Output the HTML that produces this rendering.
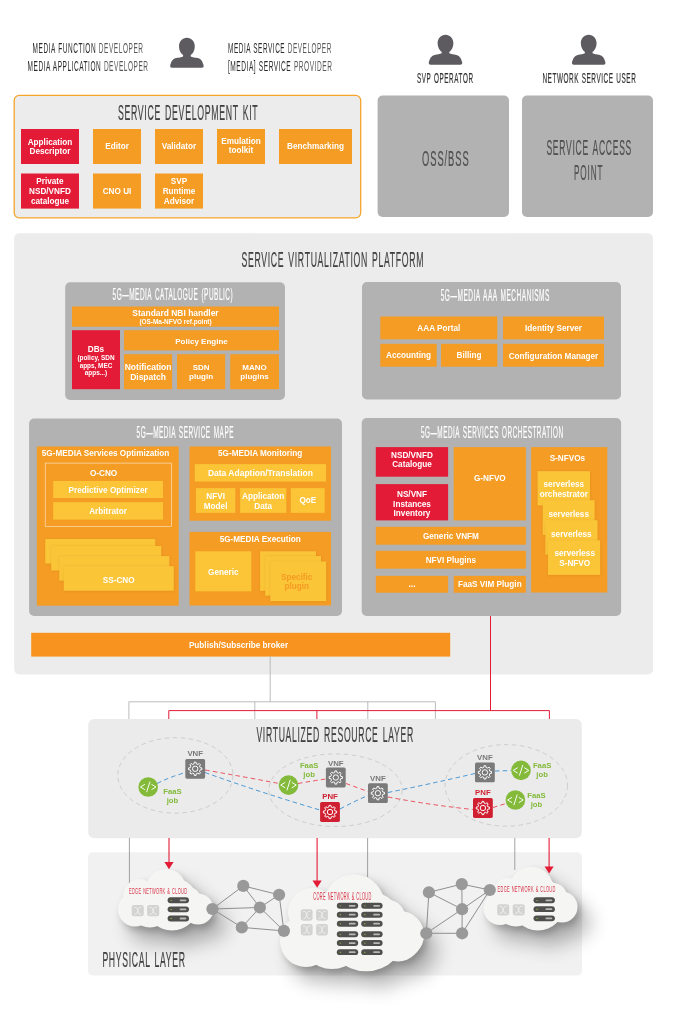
<!DOCTYPE html>
<html><head><meta charset="utf-8"><title>5G-MEDIA architecture</title>
<style>html,body{margin:0;padding:0;background:#fff}svg{display:block;will-change:transform}text{font-family:"Liberation Sans",sans-serif}</style>
</head><body>
<svg width="675" height="1024" viewBox="0 0 675 1024">
<defs>
<filter id="sh" x="-10%" y="-20%" width="125%" height="150%"><feDropShadow dx="0.2" dy="0.4" stdDeviation="0.8" flood-color="#b86a00" flood-opacity="0.3"/></filter>
<filter id="csh" x="-40%" y="-40%" width="210%" height="240%" color-interpolation-filters="sRGB">
<feGaussianBlur in="SourceAlpha" stdDeviation="3.5" result="b1"/><feOffset in="b1" dx="3" dy="4" result="o1"/>
<feComponentTransfer in="o1" result="s1"><feFuncA type="linear" slope="0.2"/></feComponentTransfer>
<feGaussianBlur in="SourceAlpha" stdDeviation="10" result="b2"/><feOffset in="b2" dx="12" dy="15" result="o2"/>
<feComponentTransfer in="o2" result="s2"><feFuncA type="linear" slope="0.3"/></feComponentTransfer>
<feMerge><feMergeNode in="s2"/><feMergeNode in="s1"/><feMergeNode in="SourceGraphic"/></feMerge></filter>
<clipPath id="pc"><rect x="88" y="852.2" width="494" height="123.4" rx="5"/></clipPath>
</defs>
<rect width="675" height="1024" fill="#fff"/>
<text transform="translate(32.6,53.2) scale(0.4472,1)" font-size="14.53" word-spacing="0.6" textLength="246.9" lengthAdjust="spacing"><tspan fill="#2b2b2b">MEDIA FUNCTION</tspan><tspan fill="#5a5a5a"> DEVELOPER</tspan></text><text transform="translate(27.6,71.2) scale(0.4482,1)" font-size="14.53" word-spacing="0.6" textLength="268.6" lengthAdjust="spacing"><tspan fill="#2b2b2b">MEDIA APPLICATION</tspan><tspan fill="#5a5a5a"> DEVELOPER</tspan></text><text transform="translate(228.0,53.2) scale(0.4419,1)" font-size="14.53" word-spacing="0.6" textLength="233.8" lengthAdjust="spacing"><tspan fill="#2b2b2b">MEDIA SERVICE</tspan><tspan fill="#5a5a5a"> DEVELOPER</tspan></text><text transform="translate(228.0,71.2) scale(0.4539,1)" font-size="14.53" word-spacing="0.6" textLength="229.1" lengthAdjust="spacing"><tspan fill="#2b2b2b">[MEDIA] SERVICE</tspan><tspan fill="#5a5a5a"> PROVIDER</tspan></text><g transform="translate(186.9,37.8) scale(1.000)" fill="#5e5b60"><path d="M0,0 C4.6,0 7.9,3.6 7.9,8.6 C7.9,12.6 6,15.6 3.8,17.2 L3.8,18.6 C5.5,19.4 8,19.6 11,20.2 C14.5,21 16,24.5 16.7,27.8 C16.9,29.2 16.2,30 15,30 L-15,30 C-16.2,30 -16.9,29.2 -16.7,27.8 C-16,24.5 -14.5,21 -11,20.2 C-8,19.6 -5.5,19.4 -3.8,18.6 L-3.8,17.2 C-6,15.6 -7.9,12.6 -7.9,8.6 C-7.9,3.6 -4.6,0 0,0 Z"/></g><g transform="translate(445.5,34.7) scale(1.000)" fill="#5e5b60"><path d="M0,0 C4.6,0 7.9,3.6 7.9,8.6 C7.9,12.6 6,15.6 3.8,17.2 L3.8,18.6 C5.5,19.4 8,19.6 11,20.2 C14.5,21 16,24.5 16.7,27.8 C16.9,29.2 16.2,30 15,30 L-15,30 C-16.2,30 -16.9,29.2 -16.7,27.8 C-16,24.5 -14.5,21 -11,20.2 C-8,19.6 -5.5,19.4 -3.8,18.6 L-3.8,17.2 C-6,15.6 -7.9,12.6 -7.9,8.6 C-7.9,3.6 -4.6,0 0,0 Z"/></g><g transform="translate(588.7,34.7) scale(1.000)" fill="#5e5b60"><path d="M0,0 C4.6,0 7.9,3.6 7.9,8.6 C7.9,12.6 6,15.6 3.8,17.2 L3.8,18.6 C5.5,19.4 8,19.6 11,20.2 C14.5,21 16,24.5 16.7,27.8 C16.9,29.2 16.2,30 15,30 L-15,30 C-16.2,30 -16.9,29.2 -16.7,27.8 C-16,24.5 -14.5,21 -11,20.2 C-8,19.6 -5.5,19.4 -3.8,18.6 L-3.8,17.2 C-6,15.6 -7.9,12.6 -7.9,8.6 C-7.9,3.6 -4.6,0 0,0 Z"/></g><text transform="translate(417.0,82.5) scale(0.4231,1)" font-size="14.97" fill="#333" stroke="#333" stroke-width="0.22" font-weight="normal" word-spacing="0.7" textLength="132.4" lengthAdjust="spacing">SVP OPERATOR</text><text transform="translate(542.4,82.5) scale(0.4283,1)" font-size="14.97" fill="#333" stroke="#333" stroke-width="0.22" font-weight="normal" word-spacing="0.7" textLength="218.0" lengthAdjust="spacing">NETWORK SERVICE USER</text><rect x="14.2" y="95.4" width="346.5" height="122.4" fill="#ececec" rx="5" stroke="#f5a52a" stroke-width="1.3"/><text transform="translate(118.0,119.8) scale(0.3914,1)" font-size="22.38" fill="#414141" stroke="#414141" stroke-width="0.22" font-weight="normal" word-spacing="2.7" textLength="356.7" lengthAdjust="spacing">SERVICE DEVELOPMENT KIT</text><rect x="21.0" y="129.0" width="58.0" height="35.0" fill="#e31b37"/><text x="50.0" y="144.7" font-size="8.2" fill="#fff" font-weight="bold" text-anchor="middle">Application</text><text x="50.0" y="154.2" font-size="8.2" fill="#fff" font-weight="bold" text-anchor="middle">Descriptor</text><rect x="93.0" y="129.0" width="48.0" height="35.0" fill="#f49c24"/><text x="117.0" y="149.1" font-size="8.2" fill="#fff" font-weight="bold" text-anchor="middle">Editor</text><rect x="155.0" y="129.0" width="48.0" height="35.0" fill="#f49c24"/><text x="179.0" y="149.1" font-size="8.2" fill="#fff" font-weight="bold" text-anchor="middle">Validator</text><rect x="217.0" y="129.0" width="48.0" height="35.0" fill="#f49c24"/><text x="241.0" y="143.7" font-size="8.2" fill="#fff" font-weight="bold" text-anchor="middle">Emulation</text><text x="241.0" y="153.2" font-size="8.2" fill="#fff" font-weight="bold" text-anchor="middle">toolkit</text><rect x="279.0" y="129.0" width="73.0" height="35.0" fill="#f49c24"/><text x="315.5" y="149.1" font-size="8.2" fill="#fff" font-weight="bold" text-anchor="middle">Benchmarking</text><rect x="21.0" y="173.5" width="58.0" height="35.1" fill="#e31b37"/><text x="50.0" y="184.4" font-size="8.2" fill="#fff" font-weight="bold" text-anchor="middle">Private</text><text x="50.0" y="194.0" font-size="8.2" fill="#fff" font-weight="bold" text-anchor="middle">NSD/VNFD</text><text x="50.0" y="203.6" font-size="8.2" fill="#fff" font-weight="bold" text-anchor="middle">catalogue</text><rect x="93.0" y="173.5" width="48.0" height="35.1" fill="#f49c24"/><text x="117.0" y="193.6" font-size="8.2" fill="#fff" font-weight="bold" text-anchor="middle">CNO UI</text><rect x="155.0" y="173.5" width="48.0" height="35.1" fill="#f49c24"/><text x="179.0" y="184.4" font-size="8.2" fill="#fff" font-weight="bold" text-anchor="middle">SVP</text><text x="179.0" y="194.0" font-size="8.2" fill="#fff" font-weight="bold" text-anchor="middle">Runtime</text><text x="179.0" y="203.6" font-size="8.2" fill="#fff" font-weight="bold" text-anchor="middle">Advisor</text><rect x="377.6" y="95.5" width="131.4" height="121.5" fill="#b2b2b2" rx="5"/><rect x="522.0" y="95.5" width="131.0" height="121.5" fill="#b2b2b2" rx="5"/><text transform="translate(422.0,166.4) scale(0.4182,1)" font-size="22.38" fill="#505050" stroke="#505050" stroke-width="0.22" font-weight="normal" word-spacing="2.7" textLength="111.7" lengthAdjust="spacing">OSS/BSS</text><text transform="translate(546.4,154.5) scale(0.3833,1)" font-size="22.38" fill="#505050" stroke="#505050" stroke-width="0.22" font-weight="normal" word-spacing="2.7" textLength="221.5" lengthAdjust="spacing">SERVICE ACCESS</text><text transform="translate(574.0,180.1) scale(0.3654,1)" font-size="22.38" fill="#505050" stroke="#505050" stroke-width="0.22" font-weight="normal" word-spacing="2.7" textLength="77.7" lengthAdjust="spacing">POINT</text><rect x="14.2" y="233.3" width="638.8" height="441.2" fill="#ececec" rx="5"/><text transform="translate(241.5,266.9) scale(0.3892,1)" font-size="22.38" fill="#414141" stroke="#414141" stroke-width="0.22" font-weight="normal" word-spacing="2.7" textLength="467.4" lengthAdjust="spacing">SERVICE VIRTUALIZATION PLATFORM</text><rect x="65.2" y="282.2" width="219.8" height="117.7" fill="#b2b2b2" rx="5"/><text transform="translate(112.6,300.2) scale(0.3843,1)" font-size="16.86" fill="#fff" stroke="#fff" stroke-width="0.22" font-weight="normal" word-spacing="2.0" textLength="312.3" lengthAdjust="spacing">5G—MEDIA CATALOGUE (PUBLIC)</text><rect x="72.0" y="306.5" width="207.0" height="20.2" fill="#f49c24"/><text x="175.5" y="316.4" font-size="8.45" fill="#fff" font-weight="bold" text-anchor="middle">Standard NBI handler</text><text x="175.5" y="324.0" font-size="6.45" fill="#fff" font-weight="bold" text-anchor="middle">(OS-Ma-NFVO ref.point)</text><rect x="72.0" y="330.2" width="48.0" height="59.0" fill="#e31b37"/><text x="96.0" y="352.0" font-size="8.2" fill="#fff" font-weight="bold" text-anchor="middle">DBs</text><text x="96.0" y="360.3" font-size="6.4" fill="#fff" font-weight="bold" text-anchor="middle">(policy, SDN</text><text x="96.0" y="367.6" font-size="6.4" fill="#fff" font-weight="bold" text-anchor="middle">apps, MEC</text><text x="96.0" y="374.9" font-size="6.4" fill="#fff" font-weight="bold" text-anchor="middle">apps...)</text><rect x="124.0" y="330.2" width="155.0" height="20.2" fill="#f49c24"/><text x="201.5" y="343.7" font-size="8.0" fill="#fff" font-weight="bold" text-anchor="middle">Policy Engine</text><rect x="124.0" y="354.2" width="48.1" height="35.0" fill="#f49c24"/><text x="148.1" y="369.8" font-size="8.5" fill="#fff" font-weight="bold" text-anchor="middle">Notification</text><text x="148.1" y="379.7" font-size="8.5" fill="#fff" font-weight="bold" text-anchor="middle">Dispatch</text><rect x="177.0" y="354.2" width="48.2" height="35.0" fill="#f49c24"/><text x="201.1" y="369.9" font-size="8.0" fill="#fff" font-weight="bold" text-anchor="middle">SDN</text><text x="201.1" y="379.3" font-size="8.0" fill="#fff" font-weight="bold" text-anchor="middle">plugin</text><rect x="230.2" y="354.2" width="48.8" height="35.0" fill="#f49c24"/><text x="254.6" y="369.9" font-size="8.0" fill="#fff" font-weight="bold" text-anchor="middle">MANO</text><text x="254.6" y="379.3" font-size="8.0" fill="#fff" font-weight="bold" text-anchor="middle">plugins</text><rect x="362.0" y="282.0" width="259.0" height="117.5" fill="#b2b2b2" rx="5"/><text transform="translate(440.7,301.3) scale(0.4078,1)" font-size="15.99" fill="#fff" stroke="#fff" stroke-width="0.22" font-weight="normal" word-spacing="1.9" textLength="266.5" lengthAdjust="spacing">5G—MEDIA AAA MECHANISMS</text><rect x="380.3" y="316.5" width="117.0" height="22.8" fill="#f49c24"/><text x="438.8" y="330.5" font-size="8.2" fill="#fff" font-weight="bold" text-anchor="middle">AAA Portal</text><rect x="503.0" y="316.5" width="101.0" height="22.8" fill="#f49c24"/><text x="553.5" y="330.5" font-size="8.2" fill="#fff" font-weight="bold" text-anchor="middle">Identity Server</text><rect x="380.3" y="343.8" width="56.4" height="22.9" fill="#f49c24"/><text x="408.5" y="357.8" font-size="8.2" fill="#fff" font-weight="bold" text-anchor="middle">Accounting</text><rect x="441.0" y="343.8" width="56.3" height="22.9" fill="#f49c24"/><text x="469.1" y="357.8" font-size="8.2" fill="#fff" font-weight="bold" text-anchor="middle">Billing</text><rect x="503.0" y="343.8" width="101.0" height="22.9" fill="#f49c24"/><text x="553.5" y="358.6" font-size="8.2" fill="#fff" font-weight="bold" text-anchor="middle">Configuration Manager</text><rect x="29.1" y="418.6" width="312.9" height="197.4" fill="#b2b2b2" rx="5"/><text transform="translate(136.6,438.1) scale(0.3829,1)" font-size="16.86" fill="#fff" stroke="#fff" stroke-width="0.22" font-weight="normal" word-spacing="2.0" textLength="253.1" lengthAdjust="spacing">5G—MEDIA SERVICE MAPE</text><rect x="36.9" y="446.5" width="141.8" height="159.2" fill="#f49c24"/><text x="105.6" y="456.4" font-size="8.2" fill="#fff" font-weight="bold" text-anchor="middle">5G-MEDIA Services Optimization</text><rect x="45.2" y="463.1" width="126.4" height="63.3" fill="none" stroke="#fff" stroke-opacity="0.8" stroke-width="0.6"/><text x="103.6" y="476.3" font-size="8.2" fill="#fff" font-weight="bold" text-anchor="middle">O-CNO</text><rect x="53.2" y="481.0" width="109.8" height="17.0" fill="#fbc537"/><text x="108.1" y="492.9" font-size="8.2" fill="#fff" font-weight="bold" text-anchor="middle">Predictive Optimizer</text><rect x="53.2" y="502.2" width="109.8" height="17.4" fill="#fbc537"/><text x="108.1" y="514.3" font-size="8.2" fill="#fff" font-weight="bold" text-anchor="middle">Arbitrator</text><rect x="45.2" y="539.0" width="110.0" height="24.5" fill="#fbc537" filter="url(#sh)"/><rect x="51.2" y="546.0" width="110.0" height="24.5" fill="#fbc537" filter="url(#sh)"/><rect x="59.3" y="556.1" width="110.0" height="24.5" fill="#fbc537" filter="url(#sh)"/><rect x="63.8" y="566.2" width="110.0" height="24.5" fill="#fbc537" filter="url(#sh)"/><text x="118.7" y="583.4" font-size="8.2" fill="#fff" font-weight="bold" text-anchor="middle">SS-CNO</text><rect x="189.5" y="446.5" width="141.5" height="74.2" fill="#f49c24"/><text x="260.2" y="456.3" font-size="8.2" fill="#fff" font-weight="bold" text-anchor="middle">5G-MEDIA Monitoring</text><rect x="194.8" y="464.1" width="131.2" height="17.4" fill="#fbc537"/><text x="260.4" y="476.3" font-size="8.5" fill="#fff" font-weight="bold" text-anchor="middle">Data Adaption/Translation</text><rect x="195.9" y="488.1" width="39.4" height="24.8" fill="#fbc537"/><text x="215.6" y="499.3" font-size="8.2" fill="#fff" font-weight="bold" text-anchor="middle">NFVI</text><text x="215.6" y="508.8" font-size="8.2" fill="#fff" font-weight="bold" text-anchor="middle">Model</text><rect x="240.1" y="488.1" width="46.2" height="24.8" fill="#fbc537"/><text x="263.2" y="499.3" font-size="8.2" fill="#fff" font-weight="bold" text-anchor="middle">Applicaton</text><text x="263.2" y="508.8" font-size="8.2" fill="#fff" font-weight="bold" text-anchor="middle">Data</text><rect x="290.8" y="488.1" width="33.9" height="24.8" fill="#fbc537"/><text x="307.8" y="503.1" font-size="8.2" fill="#fff" font-weight="bold" text-anchor="middle">QoE</text><rect x="189.5" y="531.9" width="141.5" height="73.6" fill="#f49c24"/><text x="260.2" y="541.9" font-size="8.2" fill="#fff" font-weight="bold" text-anchor="middle">5G-MEDIA Execution</text><rect x="195.3" y="551.3" width="56.0" height="40.0" fill="#fbc537"/><text x="223.3" y="574.5" font-size="8.2" fill="#fff" font-weight="bold" text-anchor="middle">Generic</text><rect x="260.1" y="551.3" width="55.8" height="39.6" fill="#fbc537" filter="url(#sh)"/><rect x="265.2" y="556.1" width="55.8" height="39.6" fill="#fbc537" filter="url(#sh)"/><rect x="270.3" y="561.5" width="55.8" height="39.6" fill="#fbc537" filter="url(#sh)"/><text x="296.7" y="579.8" font-size="8.2" fill="#f59a23" font-weight="bold" text-anchor="middle">Specific</text><text x="296.7" y="589.3" font-size="8.2" fill="#f59a23" font-weight="bold" text-anchor="middle">plugin</text><rect x="361.7" y="418.0" width="259.4" height="198.0" fill="#b2b2b2" rx="5"/><text transform="translate(420.9,438.0) scale(0.3778,1)" font-size="16.86" fill="#fff" stroke="#fff" stroke-width="0.22" font-weight="normal" word-spacing="2.0" textLength="376.2" lengthAdjust="spacing">5G—MEDIA SERVICES ORCHESTRATION</text><rect x="375.8" y="447.1" width="72.3" height="29.6" fill="#e31b37"/><text x="412.0" y="457.7" font-size="8.2" fill="#fff" font-weight="bold" text-anchor="middle">NSD/VNFD</text><text x="412.0" y="467.2" font-size="8.2" fill="#fff" font-weight="bold" text-anchor="middle">Catalogue</text><rect x="375.8" y="484.1" width="72.3" height="36.3" fill="#e31b37"/><text x="412.0" y="497.0" font-size="8.2" fill="#fff" font-weight="bold" text-anchor="middle">NS/VNF</text><text x="412.0" y="506.5" font-size="8.2" fill="#fff" font-weight="bold" text-anchor="middle">Instances</text><text x="412.0" y="516.0" font-size="8.2" fill="#fff" font-weight="bold" text-anchor="middle">Inventory</text><rect x="453.7" y="447.1" width="72.2" height="73.3" fill="#f49c24"/><text x="489.8" y="481.4" font-size="8.2" fill="#fff" font-weight="bold" text-anchor="middle">G-NFVO</text><rect x="375.8" y="526.8" width="150.1" height="17.9" fill="#f49c24"/><text x="450.9" y="539.1" font-size="8.2" fill="#fff" font-weight="bold" text-anchor="middle">Generic VNFM</text><rect x="375.8" y="550.8" width="150.1" height="17.9" fill="#f49c24"/><text x="450.9" y="562.9" font-size="8.2" fill="#fff" font-weight="bold" text-anchor="middle">NFVI Plugins</text><rect x="375.8" y="575.9" width="72.3" height="16.8" fill="#f49c24"/><text x="412.0" y="587.4" font-size="8.2" fill="#fff" font-weight="bold" text-anchor="middle">...</text><rect x="453.7" y="575.9" width="72.2" height="16.8" fill="#f49c24"/><text x="489.8" y="586.9" font-size="8.2" fill="#fff" font-weight="bold" text-anchor="middle">FaaS VIM Plugin</text><rect x="531.1" y="447.1" width="76.2" height="145.4" fill="#f49c24"/><text x="567.4" y="461.3" font-size="8.2" fill="#fff" font-weight="bold" text-anchor="middle">S-NFVOs</text><rect x="537.6" y="471.2" width="52.4" height="34.2" fill="#fbc537" filter="url(#sh)"/><rect x="542.8" y="500.2" width="51.8" height="34.8" fill="#fbc537" filter="url(#sh)"/><rect x="545.4" y="520.2" width="52.1" height="34.5" fill="#fbc537" filter="url(#sh)"/><rect x="548.0" y="540.4" width="52.1" height="34.5" fill="#fbc537" filter="url(#sh)"/><text x="563.8" y="487.2" font-size="8.2" fill="#fff" font-weight="bold" text-anchor="middle">serverless</text><text x="563.8" y="496.6" font-size="8.2" fill="#fff" font-weight="bold" text-anchor="middle">orchestrator</text><text x="568.7" y="517.1" font-size="8.2" fill="#fff" font-weight="bold" text-anchor="middle">serverless</text><text x="571.3" y="537.0" font-size="8.2" fill="#fff" font-weight="bold" text-anchor="middle">serverless</text><text x="574.7" y="556.4" font-size="8.2" fill="#fff" font-weight="bold" text-anchor="middle">serverless</text><text x="574.7" y="565.8" font-size="8.2" fill="#fff" font-weight="bold" text-anchor="middle">S-NFVO</text><rect x="31.2" y="632.8" width="419.0" height="23.8" fill="#f7931e"/><text x="238.5" y="648.2" font-size="8.2" fill="#fff" font-weight="bold" text-anchor="middle">Publish/Subscribe broker</text>
<path d="M270.2,656.0 L270.2,701.8" fill="none" stroke="#b4b4b4" stroke-width="0.9" /><path d="M128.9,720.0 L128.9,701.8 L435.4,701.8 L435.4,720.0" fill="none" stroke="#b4b4b4" stroke-width="0.9" /><path d="M254.8,701.8 L254.8,720.0" fill="none" stroke="#b4b4b4" stroke-width="0.9" /><path d="M367.8,701.8 L367.8,720.0" fill="none" stroke="#b4b4b4" stroke-width="0.9" /><path d="M490.5,616.0 L490.5,710.6" fill="none" stroke="#e31b37" stroke-width="1" /><path d="M168.8,720.0 L168.8,710.6 L549.4,710.6 L549.4,720.0" fill="none" stroke="#e31b37" stroke-width="1" /><path d="M316.9,710.6 L316.9,720.0" fill="none" stroke="#e31b37" stroke-width="1" />
<rect x="88.2" y="719.0" width="493.6" height="119.2" fill="#ebebeb" rx="6"/><text transform="translate(256.4,742.4) scale(0.3849,1)" font-size="22.53" fill="#414141" stroke="#414141" stroke-width="0.22" font-weight="normal" word-spacing="2.7" textLength="407.3" lengthAdjust="spacing">VIRTUALIZED RESOURCE LAYER</text><ellipse cx="175.4" cy="775.4" rx="57.6" ry="37.7" fill="none" stroke="#c4c4c4" stroke-width="0.8" stroke-dasharray="4.5 3.5"/><ellipse cx="335.5" cy="790.2" rx="66.7" ry="36.3" fill="none" stroke="#c4c4c4" stroke-width="0.8" stroke-dasharray="4.5 3.5"/><ellipse cx="506.3" cy="785.4" rx="61.2" ry="40.8" fill="none" stroke="#c4c4c4" stroke-width="0.8" stroke-dasharray="4.5 3.5"/><path d="M157,783.5 Q172,776 186,772.5" fill="none" stroke="#4796d4" stroke-width="1" stroke-dasharray="4.5 3.2"/><path d="M205,770 Q245,777 279,783.5" fill="none" stroke="#e9525f" stroke-width="1" stroke-dasharray="4.5 3.2"/><path d="M205,772.5 Q262,793 320,810" fill="none" stroke="#4796d4" stroke-width="1" stroke-dasharray="4.5 3.2"/><path d="M298,783.5 Q312,781 326,779" fill="none" stroke="#e9525f" stroke-width="1" stroke-dasharray="4.5 3.2"/><path d="M346,783.5 L368,791.5" fill="none" stroke="#e9525f" stroke-width="1" stroke-dasharray="4.5 3.2"/><path d="M388,797 Q430,805 473,809.5" fill="none" stroke="#e9525f" stroke-width="1" stroke-dasharray="4.5 3.2"/><path d="M340,809 Q355,801 368,795.5" fill="none" stroke="#4796d4" stroke-width="1" stroke-dasharray="4.5 3.2"/><path d="M388,792.5 Q430,784 475,773.5" fill="none" stroke="#4796d4" stroke-width="1" stroke-dasharray="4.5 3.2"/><path d="M495,771 L511,770.6" fill="none" stroke="#4796d4" stroke-width="1" stroke-dasharray="4.5 3.2"/><path d="M493,807.5 L506,803.5" fill="none" stroke="#e9525f" stroke-width="1" stroke-dasharray="4.5 3.2"/><rect x="185.3" y="758.9" width="19.8" height="19.8" rx="1.6" fill="#7a7a7a"/><path d="M200.18,767.69 L201.84,767.93 L201.84,769.67 L200.18,769.91 L199.51,771.53 L200.51,772.88 L199.28,774.11 L197.93,773.11 L196.31,773.78 L196.07,775.44 L194.33,775.44 L194.09,773.78 L192.47,773.11 L191.12,774.11 L189.89,772.88 L190.89,771.53 L190.22,769.91 L188.56,769.67 L188.56,767.93 L190.22,767.69 L190.89,766.07 L189.89,764.72 L191.12,763.49 L192.47,764.49 L194.09,763.82 L194.33,762.16 L196.07,762.16 L196.31,763.82 L197.93,764.49 L199.28,763.49 L200.51,764.72 L199.51,766.07Z" fill="none" stroke="#fff" stroke-width="1" stroke-linejoin="round"/><circle cx="195.2" cy="768.8" r="2.7" fill="none" stroke="#fff" stroke-width="1"/><text x="195.2" y="756.0" font-size="7.8" fill="#787878" font-weight="bold" text-anchor="middle">VNF</text><circle cx="148.2" cy="787" r="9.8" fill="#83ba3a"/><path d="M144.9,784.3 L140.4,787.0 L144.9,789.7 M151.5,784.3 L156.0,787.0 L151.5,789.7 M150.0,781.6 L146.6,792.2" fill="none" stroke="#fff" stroke-width="0.95"/><text x="172.5" y="793.7" font-size="7.7" fill="#83ba3a" font-weight="bold" text-anchor="middle">FaaS</text><text x="172.5" y="803.1" font-size="7.7" fill="#83ba3a" font-weight="bold" text-anchor="middle">job</text><circle cx="288.5" cy="785.1" r="9.8" fill="#83ba3a"/><path d="M285.2,782.4 L280.7,785.1 L285.2,787.8 M291.8,782.4 L296.3,785.1 L291.8,787.8 M290.3,779.7 L286.9,790.3" fill="none" stroke="#fff" stroke-width="0.95"/><text x="309.1" y="768.2" font-size="7.7" fill="#83ba3a" font-weight="bold" text-anchor="middle">FaaS</text><text x="309.1" y="777.4" font-size="7.7" fill="#83ba3a" font-weight="bold" text-anchor="middle">job</text><rect x="325.9" y="767.6" width="19.8" height="19.8" rx="1.6" fill="#7a7a7a"/><path d="M340.78,776.39 L342.44,776.63 L342.44,778.37 L340.78,778.61 L340.11,780.23 L341.11,781.58 L339.88,782.81 L338.53,781.81 L336.91,782.48 L336.67,784.14 L334.93,784.14 L334.69,782.48 L333.07,781.81 L331.72,782.81 L330.49,781.58 L331.49,780.23 L330.82,778.61 L329.16,778.37 L329.16,776.63 L330.82,776.39 L331.49,774.77 L330.49,773.42 L331.72,772.19 L333.07,773.19 L334.69,772.52 L334.93,770.86 L336.67,770.86 L336.91,772.52 L338.53,773.19 L339.88,772.19 L341.11,773.42 L340.11,774.77Z" fill="none" stroke="#fff" stroke-width="1" stroke-linejoin="round"/><circle cx="335.8" cy="777.5" r="2.7" fill="none" stroke="#fff" stroke-width="1"/><text x="335.8" y="765.5" font-size="7.8" fill="#787878" font-weight="bold" text-anchor="middle">VNF</text><rect x="368.0" y="783.3" width="19.8" height="19.8" rx="1.6" fill="#7a7a7a"/><path d="M382.88,792.09 L384.54,792.33 L384.54,794.07 L382.88,794.31 L382.21,795.93 L383.21,797.28 L381.98,798.51 L380.63,797.51 L379.01,798.18 L378.77,799.84 L377.03,799.84 L376.79,798.18 L375.17,797.51 L373.82,798.51 L372.59,797.28 L373.59,795.93 L372.92,794.31 L371.26,794.07 L371.26,792.33 L372.92,792.09 L373.59,790.47 L372.59,789.12 L373.82,787.89 L375.17,788.89 L376.79,788.22 L377.03,786.56 L378.77,786.56 L379.01,788.22 L380.63,788.89 L381.98,787.89 L383.21,789.12 L382.21,790.47Z" fill="none" stroke="#fff" stroke-width="1" stroke-linejoin="round"/><circle cx="377.9" cy="793.2" r="2.7" fill="none" stroke="#fff" stroke-width="1"/><text x="377.9" y="781.0" font-size="7.8" fill="#787878" font-weight="bold" text-anchor="middle">VNF</text><rect x="320.1" y="802.1" width="19.8" height="19.8" rx="1.6" fill="#d01f30"/><path d="M334.98,810.89 L336.64,811.13 L336.64,812.87 L334.98,813.11 L334.31,814.73 L335.31,816.08 L334.08,817.31 L332.73,816.31 L331.11,816.98 L330.87,818.64 L329.13,818.64 L328.89,816.98 L327.27,816.31 L325.92,817.31 L324.69,816.08 L325.69,814.73 L325.02,813.11 L323.36,812.87 L323.36,811.13 L325.02,810.89 L325.69,809.27 L324.69,807.92 L325.92,806.69 L327.27,807.69 L328.89,807.02 L329.13,805.36 L330.87,805.36 L331.11,807.02 L332.73,807.69 L334.08,806.69 L335.31,807.92 L334.31,809.27Z" fill="none" stroke="#fff" stroke-width="1" stroke-linejoin="round"/><circle cx="330.0" cy="812.0" r="2.7" fill="none" stroke="#fff" stroke-width="1"/><text x="330.0" y="799.3" font-size="7.8" fill="#d01f30" font-weight="bold" text-anchor="middle">PNF</text><rect x="475.0" y="762.5" width="19.8" height="19.8" rx="1.6" fill="#7a7a7a"/><path d="M489.88,771.29 L491.54,771.53 L491.54,773.27 L489.88,773.51 L489.21,775.13 L490.21,776.48 L488.98,777.71 L487.63,776.71 L486.01,777.38 L485.77,779.04 L484.03,779.04 L483.79,777.38 L482.17,776.71 L480.82,777.71 L479.59,776.48 L480.59,775.13 L479.92,773.51 L478.26,773.27 L478.26,771.53 L479.92,771.29 L480.59,769.67 L479.59,768.32 L480.82,767.09 L482.17,768.09 L483.79,767.42 L484.03,765.76 L485.77,765.76 L486.01,767.42 L487.63,768.09 L488.98,767.09 L490.21,768.32 L489.21,769.67Z" fill="none" stroke="#fff" stroke-width="1" stroke-linejoin="round"/><circle cx="484.9" cy="772.4" r="2.7" fill="none" stroke="#fff" stroke-width="1"/><text x="484.9" y="760.1" font-size="7.8" fill="#787878" font-weight="bold" text-anchor="middle">VNF</text><rect x="473.0" y="798.1" width="19.8" height="19.8" rx="1.6" fill="#d01f30"/><path d="M487.88,806.89 L489.54,807.13 L489.54,808.87 L487.88,809.11 L487.21,810.73 L488.21,812.08 L486.98,813.31 L485.63,812.31 L484.01,812.98 L483.77,814.64 L482.03,814.64 L481.79,812.98 L480.17,812.31 L478.82,813.31 L477.59,812.08 L478.59,810.73 L477.92,809.11 L476.26,808.87 L476.26,807.13 L477.92,806.89 L478.59,805.27 L477.59,803.92 L478.82,802.69 L480.17,803.69 L481.79,803.02 L482.03,801.36 L483.77,801.36 L484.01,803.02 L485.63,803.69 L486.98,802.69 L488.21,803.92 L487.21,805.27Z" fill="none" stroke="#fff" stroke-width="1" stroke-linejoin="round"/><circle cx="482.9" cy="808.0" r="2.7" fill="none" stroke="#fff" stroke-width="1"/><text x="482.9" y="795.3" font-size="7.8" fill="#d01f30" font-weight="bold" text-anchor="middle">PNF</text><circle cx="521" cy="770.4" r="9.8" fill="#83ba3a"/><path d="M517.7,767.7 L513.2,770.4 L517.7,773.1 M524.3,767.7 L528.8,770.4 L524.3,773.1 M522.8,765.0 L519.4,775.6" fill="none" stroke="#fff" stroke-width="0.95"/><text x="542.1" y="767.9" font-size="7.7" fill="#83ba3a" font-weight="bold" text-anchor="middle">FaaS</text><text x="542.1" y="777.0" font-size="7.7" fill="#83ba3a" font-weight="bold" text-anchor="middle">job</text><circle cx="515.4" cy="800" r="9.8" fill="#83ba3a"/><path d="M512.1,797.3 L507.6,800.0 L512.1,802.7 M518.7,797.3 L523.2,800.0 L518.7,802.7 M517.2,794.6 L513.8,805.2" fill="none" stroke="#fff" stroke-width="0.95"/><text x="536.5" y="798.0" font-size="7.7" fill="#83ba3a" font-weight="bold" text-anchor="middle">FaaS</text><text x="536.5" y="807.2" font-size="7.7" fill="#83ba3a" font-weight="bold" text-anchor="middle">job</text>
<rect x="88.0" y="852.2" width="494.0" height="123.4" fill="#f1f1f1" rx="5"/>
<path d="M129.4,838.0 L129.4,884.0" fill="none" stroke="#7d7d7d" stroke-width="0.7" /><path d="M367.6,838.0 L367.6,877.0" fill="none" stroke="#7d7d7d" stroke-width="0.7" /><path d="M514.8,838.0 L514.8,870.0" fill="none" stroke="#7d7d7d" stroke-width="0.7" />
<g filter="url(#csh)" fill="#f5f5f3"><circle cx="166" cy="889" r="20"/><circle cx="139.5" cy="895.5" r="16.3"/><circle cx="135" cy="909.5" r="17"/><circle cx="188" cy="900" r="13"/><circle cx="198" cy="909" r="15.5"/><circle cx="150" cy="906" r="21.5"/><circle cx="172" cy="904" r="26.6"/></g><g filter="url(#csh)" fill="#f5f5f3"><circle cx="354" cy="905" r="30.5"/><circle cx="312" cy="912" r="24"/><circle cx="306" cy="941" r="26"/><circle cx="388" cy="917" r="17"/><circle cx="400" cy="935" r="24"/><circle cx="332" cy="936" r="33"/><circle cx="366" cy="931" r="40.3"/><circle cx="398" cy="938" r="23.5"/></g><g filter="url(#csh)" fill="#f5f5f3"><circle cx="531.5" cy="888.6" r="21.8"/><circle cx="508" cy="893" r="15"/><circle cx="500" cy="908.5" r="16.5"/><circle cx="553" cy="897" r="14"/><circle cx="562" cy="907" r="15.5"/><circle cx="516" cy="905" r="21.5"/><circle cx="538" cy="904" r="26.5"/></g>
<line x1="212.4" y1="909" x2="243.3" y2="885.9" stroke="#8f8f8f" stroke-width="1"/><line x1="212.4" y1="909" x2="259.9" y2="907.5" stroke="#8f8f8f" stroke-width="1"/><line x1="212.4" y1="909" x2="241.8" y2="927.4" stroke="#8f8f8f" stroke-width="1"/><line x1="243.3" y1="885.9" x2="259.9" y2="907.5" stroke="#8f8f8f" stroke-width="1"/><line x1="243.3" y1="885.9" x2="279.1" y2="894.8" stroke="#8f8f8f" stroke-width="1"/><line x1="259.9" y1="907.5" x2="279.1" y2="894.8" stroke="#8f8f8f" stroke-width="1"/><line x1="259.9" y1="907.5" x2="241.8" y2="927.4" stroke="#8f8f8f" stroke-width="1"/><line x1="259.9" y1="907.5" x2="283.9" y2="930.9" stroke="#8f8f8f" stroke-width="1"/><line x1="241.8" y1="927.4" x2="283.9" y2="930.9" stroke="#8f8f8f" stroke-width="1"/><line x1="279.1" y1="894.8" x2="283.9" y2="930.9" stroke="#8f8f8f" stroke-width="1"/><circle cx="212.4" cy="909" r="6.1" fill="#999"/><circle cx="243.3" cy="885.9" r="6.1" fill="#999"/><circle cx="259.9" cy="907.5" r="6.1" fill="#999"/><circle cx="241.8" cy="927.4" r="6.1" fill="#999"/><circle cx="279.1" cy="894.8" r="6.1" fill="#999"/><circle cx="283.9" cy="930.9" r="6.1" fill="#999"/><line x1="428.9" y1="892.3" x2="461.8" y2="884.1" stroke="#8f8f8f" stroke-width="1"/><line x1="461.8" y1="884.1" x2="489.8" y2="890" stroke="#8f8f8f" stroke-width="1"/><line x1="428.9" y1="892.3" x2="462.1" y2="909.2" stroke="#8f8f8f" stroke-width="1"/><line x1="428.9" y1="892.3" x2="426.3" y2="933.3" stroke="#8f8f8f" stroke-width="1"/><line x1="461.8" y1="884.1" x2="462.1" y2="909.2" stroke="#8f8f8f" stroke-width="1"/><line x1="489.8" y1="890" x2="462.1" y2="909.2" stroke="#8f8f8f" stroke-width="1"/><line x1="489.8" y1="890" x2="462.1" y2="933.3" stroke="#8f8f8f" stroke-width="1"/><line x1="462.1" y1="909.2" x2="426.3" y2="933.3" stroke="#8f8f8f" stroke-width="1"/><line x1="462.1" y1="909.2" x2="462.1" y2="933.3" stroke="#8f8f8f" stroke-width="1"/><line x1="426.3" y1="933.3" x2="462.1" y2="933.3" stroke="#8f8f8f" stroke-width="1"/><circle cx="428.9" cy="892.3" r="6.1" fill="#999"/><circle cx="461.8" cy="884.1" r="6.1" fill="#999"/><circle cx="489.8" cy="890" r="6.1" fill="#999"/><circle cx="462.1" cy="909.2" r="6.1" fill="#999"/><circle cx="426.3" cy="933.3" r="6.1" fill="#999"/><circle cx="462.1" cy="933.3" r="6.1" fill="#999"/>
<text transform="translate(129.0,893.8) scale(0.3996,1)" font-size="9.88" fill="#d8364a" stroke="#d8364a" stroke-width="0" font-weight="normal" word-spacing="1.0" textLength="145.4" lengthAdjust="spacing">EDGE NETWORK &amp; CLOUD</text><rect x="131.7" y="905.1" width="12.1" height="11.2" rx="2.4" fill="#d3d3d1"/><path d="M134.1,907.3 L135.7,907.3 C137.8,907.3 137.8,914.1 139.8,914.1 L141.4,914.1 M134.1,914.1 L135.7,914.1 C137.8,914.1 137.8,907.3 139.8,907.3 L141.4,907.3" fill="none" stroke="#f1f1ef" stroke-width="0.9"/><rect x="147.1" y="905.1" width="12.1" height="11.2" rx="2.4" fill="#d3d3d1"/><path d="M149.5,907.3 L151.1,907.3 C153.2,907.3 153.2,914.1 155.2,914.1 L156.8,914.1 M149.5,914.1 L151.1,914.1 C153.2,914.1 153.2,907.3 155.2,907.3 L156.8,907.3" fill="none" stroke="#f1f1ef" stroke-width="0.9"/><rect x="167.6" y="897.3" width="21.4" height="5.9" rx="3.0" fill="#4f4f4d"/><rect x="179.6" y="899.4" width="6.8" height="1.8" rx="0.9" fill="#b9b9b7"/><rect x="170.4" y="899.9" width="1.6" height="0.9" rx="0.4" fill="#8cc63f"/><rect x="167.6" y="906.4" width="21.4" height="5.9" rx="3.0" fill="#4f4f4d"/><rect x="179.6" y="908.5" width="6.8" height="1.8" rx="0.9" fill="#b9b9b7"/><rect x="170.4" y="909.0" width="1.6" height="0.9" rx="0.4" fill="#8cc63f"/><rect x="167.6" y="915.5" width="21.4" height="5.9" rx="3.0" fill="#4f4f4d"/><rect x="179.6" y="917.6" width="6.8" height="1.8" rx="0.9" fill="#b9b9b7"/><rect x="170.4" y="918.1" width="1.6" height="0.9" rx="0.4" fill="#8cc63f"/><text transform="translate(313.3,899.8) scale(0.3914,1)" font-size="10.03" fill="#d8364a" stroke="#d8364a" stroke-width="0" font-weight="normal" word-spacing="1.0" textLength="148.2" lengthAdjust="spacing">CORE NETWORK &amp; CLOUD</text><rect x="300.8" y="909.2" width="11.8" height="11.5" rx="2.4" fill="#d3d3d1"/><path d="M303.2,911.5 L304.8,911.5 C306.7,911.5 306.7,918.4 308.6,918.4 L310.2,918.4 M303.2,918.4 L304.8,918.4 C306.7,918.4 306.7,911.5 308.6,911.5 L310.2,911.5" fill="none" stroke="#f1f1ef" stroke-width="0.9"/><rect x="316.1" y="909.2" width="11.8" height="11.5" rx="2.4" fill="#d3d3d1"/><path d="M318.5,911.5 L320.1,911.5 C322.0,911.5 322.0,918.4 323.9,918.4 L325.5,918.4 M318.5,918.4 L320.1,918.4 C322.0,918.4 322.0,911.5 323.9,911.5 L325.5,911.5" fill="none" stroke="#f1f1ef" stroke-width="0.9"/><rect x="300.8" y="923.9" width="11.8" height="11.5" rx="2.4" fill="#d3d3d1"/><path d="M303.2,926.2 L304.8,926.2 C306.7,926.2 306.7,933.1 308.6,933.1 L310.2,933.1 M303.2,933.1 L304.8,933.1 C306.7,933.1 306.7,926.2 308.6,926.2 L310.2,926.2" fill="none" stroke="#f1f1ef" stroke-width="0.9"/><rect x="316.1" y="923.9" width="11.8" height="11.5" rx="2.4" fill="#d3d3d1"/><path d="M318.5,926.2 L320.1,926.2 C322.0,926.2 322.0,933.1 323.9,933.1 L325.5,933.1 M318.5,933.1 L320.1,933.1 C322.0,933.1 322.0,926.2 323.9,926.2 L325.5,926.2" fill="none" stroke="#f1f1ef" stroke-width="0.9"/><rect x="336.8" y="902.8" width="21.4" height="5.9" rx="3.0" fill="#4f4f4d"/><rect x="348.8" y="904.9" width="6.8" height="1.8" rx="0.9" fill="#b9b9b7"/><rect x="339.6" y="905.4" width="1.6" height="0.9" rx="0.4" fill="#8cc63f"/><rect x="361.2" y="902.8" width="21.4" height="5.9" rx="3.0" fill="#4f4f4d"/><rect x="373.2" y="904.9" width="6.8" height="1.8" rx="0.9" fill="#b9b9b7"/><rect x="364.0" y="905.4" width="1.6" height="0.9" rx="0.4" fill="#8cc63f"/><rect x="336.8" y="911.8" width="21.4" height="5.9" rx="3.0" fill="#4f4f4d"/><rect x="348.8" y="913.8" width="6.8" height="1.8" rx="0.9" fill="#b9b9b7"/><rect x="339.6" y="914.3" width="1.6" height="0.9" rx="0.4" fill="#8cc63f"/><rect x="361.2" y="911.8" width="21.4" height="5.9" rx="3.0" fill="#4f4f4d"/><rect x="373.2" y="913.8" width="6.8" height="1.8" rx="0.9" fill="#b9b9b7"/><rect x="364.0" y="914.3" width="1.6" height="0.9" rx="0.4" fill="#8cc63f"/><rect x="336.8" y="920.8" width="21.4" height="5.9" rx="3.0" fill="#4f4f4d"/><rect x="348.8" y="922.8" width="6.8" height="1.8" rx="0.9" fill="#b9b9b7"/><rect x="339.6" y="923.3" width="1.6" height="0.9" rx="0.4" fill="#8cc63f"/><rect x="361.2" y="920.8" width="21.4" height="5.9" rx="3.0" fill="#4f4f4d"/><rect x="373.2" y="922.8" width="6.8" height="1.8" rx="0.9" fill="#b9b9b7"/><rect x="364.0" y="923.3" width="1.6" height="0.9" rx="0.4" fill="#8cc63f"/><rect x="336.8" y="931.3" width="21.4" height="5.9" rx="3.0" fill="#4f4f4d"/><rect x="348.8" y="933.4" width="6.8" height="1.8" rx="0.9" fill="#b9b9b7"/><rect x="339.6" y="933.9" width="1.6" height="0.9" rx="0.4" fill="#8cc63f"/><rect x="361.2" y="931.3" width="21.4" height="5.9" rx="3.0" fill="#4f4f4d"/><rect x="373.2" y="933.4" width="6.8" height="1.8" rx="0.9" fill="#b9b9b7"/><rect x="364.0" y="933.9" width="1.6" height="0.9" rx="0.4" fill="#8cc63f"/><rect x="336.8" y="940.1" width="21.4" height="5.9" rx="3.0" fill="#4f4f4d"/><rect x="348.8" y="942.2" width="6.8" height="1.8" rx="0.9" fill="#b9b9b7"/><rect x="339.6" y="942.7" width="1.6" height="0.9" rx="0.4" fill="#8cc63f"/><rect x="361.2" y="940.1" width="21.4" height="5.9" rx="3.0" fill="#4f4f4d"/><rect x="373.2" y="942.2" width="6.8" height="1.8" rx="0.9" fill="#b9b9b7"/><rect x="364.0" y="942.7" width="1.6" height="0.9" rx="0.4" fill="#8cc63f"/><rect x="336.8" y="949.2" width="21.4" height="5.9" rx="3.0" fill="#4f4f4d"/><rect x="348.8" y="951.3" width="6.8" height="1.8" rx="0.9" fill="#b9b9b7"/><rect x="339.6" y="951.8" width="1.6" height="0.9" rx="0.4" fill="#8cc63f"/><rect x="361.2" y="949.2" width="21.4" height="5.9" rx="3.0" fill="#4f4f4d"/><rect x="373.2" y="951.3" width="6.8" height="1.8" rx="0.9" fill="#b9b9b7"/><rect x="364.0" y="951.8" width="1.6" height="0.9" rx="0.4" fill="#8cc63f"/><text transform="translate(497.6,891.8) scale(0.3968,1)" font-size="9.88" fill="#d8364a" stroke="#d8364a" stroke-width="0" font-weight="normal" word-spacing="1.0" textLength="145.4" lengthAdjust="spacing">EDGE NETWORK &amp; CLOUD</text><rect x="497.2" y="904.2" width="12" height="11.2" rx="2.4" fill="#d3d3d1"/><path d="M499.6,906.4 L501.2,906.4 C503.2,906.4 503.2,913.2 505.2,913.2 L506.8,913.2 M499.6,913.2 L501.2,913.2 C503.2,913.2 503.2,906.4 505.2,906.4 L506.8,906.4" fill="none" stroke="#f1f1ef" stroke-width="0.9"/><rect x="512.7" y="904.2" width="12" height="11.2" rx="2.4" fill="#d3d3d1"/><path d="M515.1,906.4 L516.7,906.4 C518.7,906.4 518.7,913.2 520.7,913.2 L522.3,913.2 M515.1,913.2 L516.7,913.2 C518.7,913.2 518.7,906.4 520.7,906.4 L522.3,906.4" fill="none" stroke="#f1f1ef" stroke-width="0.9"/><rect x="533.5" y="897.3" width="21.4" height="5.9" rx="3.0" fill="#4f4f4d"/><rect x="545.5" y="899.4" width="6.8" height="1.8" rx="0.9" fill="#b9b9b7"/><rect x="536.3" y="899.9" width="1.6" height="0.9" rx="0.4" fill="#8cc63f"/><rect x="533.5" y="906.2" width="21.4" height="5.9" rx="3.0" fill="#4f4f4d"/><rect x="545.5" y="908.3" width="6.8" height="1.8" rx="0.9" fill="#b9b9b7"/><rect x="536.3" y="908.8" width="1.6" height="0.9" rx="0.4" fill="#8cc63f"/><rect x="533.5" y="915.4" width="21.4" height="5.9" rx="3.0" fill="#4f4f4d"/><rect x="545.5" y="917.5" width="6.8" height="1.8" rx="0.9" fill="#b9b9b7"/><rect x="536.3" y="918.0" width="1.6" height="0.9" rx="0.4" fill="#8cc63f"/><path d="M169.0,838.0 L169.0,863.2" fill="none" stroke="#e31b37" stroke-width="1.1" /><path d="M164.4,862.0 L173.6,862.0 L169,869.2 Z" fill="#e31b37"/><path d="M317.1,838.0 L317.1,881.8" fill="none" stroke="#e31b37" stroke-width="1.1" /><path d="M312.5,880.5999999999999 L321.70000000000005,880.5999999999999 L317.1,887.8 Z" fill="#e31b37"/><path d="M549.1,838.0 L549.1,867.6" fill="none" stroke="#e31b37" stroke-width="1.1" /><path d="M544.5,866.4 L553.7,866.4 L549.1,873.6 Z" fill="#e31b37"/><text transform="translate(102.4,966.7) scale(0.3820,1)" font-size="22.67" fill="#414141" stroke="#414141" stroke-width="0.22" font-weight="normal" word-spacing="2.7" textLength="216.2" lengthAdjust="spacing">PHYSICAL LAYER</text>
</svg>
</body></html>
